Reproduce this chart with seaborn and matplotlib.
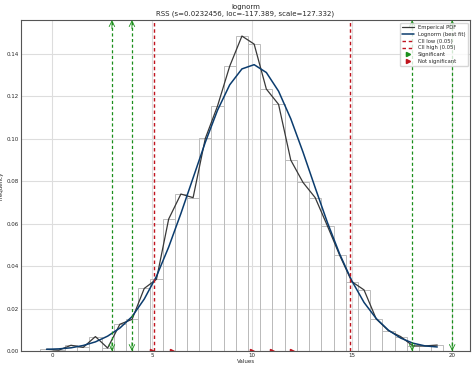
import numpy as np
import matplotlib
matplotlib.use("Agg")
import matplotlib.pyplot as plt
from matplotlib.lines import Line2D
import seaborn as sns

# histogram bins
bin_start = -0.57
bin_width = 0.61
emp_pdf = [0.0008, 0.0004, 0.0027, 0.0017, 0.0068, 0.0014, 0.0126, 0.0149,
           0.0295, 0.0338, 0.0622, 0.0740, 0.0723, 0.1002, 0.1155, 0.1343,
           0.1485, 0.1447, 0.1235, 0.1163, 0.0900, 0.0795, 0.0723, 0.0590,
           0.0452, 0.0327, 0.0288, 0.0151, 0.0096, 0.0068, 0.0024, 0.0024,
           0.0028]
fit_pdf = [0.0008, 0.0010, 0.0015, 0.0026, 0.0043, 0.0070, 0.0108, 0.0162,
           0.0245, 0.0352, 0.0490, 0.0648, 0.0816, 0.0984, 0.1135, 0.1255,
           0.1330, 0.1350, 0.1313, 0.1225, 0.1095, 0.0938, 0.0770, 0.0606,
           0.0458, 0.0331, 0.0229, 0.0153, 0.0098, 0.0061, 0.0037, 0.0024,
           0.0019]
cii_low = 5.12
cii_high = 14.87
significant = [3.0, 4.0, 18.0, 20.0]
not_significant = [5.0, 6.0, 10.0, 11.0, 12.0]
x_ticks = [0, 5, 10, 15, 20]
y_ticks = [0.00, 0.02, 0.04, 0.06, 0.08, 0.10, 0.12, 0.14]

title = "lognorm\nRSS (s=0.0232456, loc=-117.389, scale=127.332)"

centers = bin_start + bin_width * (np.arange(len(emp_pdf)) + 0.5)

sns.set_style("whitegrid", {"grid.color": "#dddddd", "axes.edgecolor": "#555555"})
plt.rcParams['font.family'] = ['DejaVu Sans']

fig = plt.figure(figsize=(4.74, 3.66), dpi=100)
ax = fig.add_axes([0.044, 0.041, 0.948, 0.904])

ax.bar(centers, emp_pdf, width=bin_width, fill=False, edgecolor="#bbbbbb", linewidth=0.7)
sns.lineplot(x=centers, y=emp_pdf, color="#383838", lw=0.9, ax=ax, legend=False)
sns.lineplot(x=centers, y=fit_pdf, color="#0b3c6e", lw=1.1, ax=ax, legend=False)

ymax = 0.156
dash = (0, (2.5, 2))
ax.axvline(cii_low, color="#c0141e", ls=dash, lw=1.0)
ax.axvline(cii_high, color="#c0141e", ls=dash, lw=1.0)

for xv in significant:
    ax.axvline(xv, color="#1a8f1a", ls=dash, lw=0.9)
    for y0, y1 in [(ymax - 0.004, ymax), (0.004, 0)]:
        ax.annotate("", xy=(xv, y1), xytext=(xv, y0),
                    arrowprops=dict(arrowstyle="->", color="#1a8f1a", lw=0.6,
                                    shrinkA=0, shrinkB=0, mutation_scale=10))

ax.plot(not_significant, np.zeros(len(not_significant)), ls="none", marker=">",
        color="#c0141e", markersize=3)

ax.set_xlim(-1.55, 20.9)
ax.set_ylim(0, ymax)
ax.set_xticks(x_ticks)
ax.set_yticks(y_ticks)
ax.set_yticklabels(["%.2f" % v for v in y_ticks])
ax.tick_params(labelsize=4, pad=1.5, length=0)
ax.set_xlabel("Values", fontsize=4, labelpad=1)
ax.set_ylabel("Frequency", fontsize=4, labelpad=2)
ax.set_title(title, fontsize=5, pad=3, linespacing=1.15)
ax.grid(True, color="#dddddd", lw=0.8)
for sp in ax.spines.values():
    sp.set_linewidth(0.8)

handles = [
    Line2D([], [], color="#383838", lw=0.9),
    Line2D([], [], color="#0b3c6e", lw=1.1),
    Line2D([], [], color="#c0141e", ls=dash, lw=1.0),
    Line2D([], [], color="#c0141e", ls=dash, lw=1.0),
    Line2D([], [], color="#1a8f1a", ls="none", marker=">", markersize=3),
    Line2D([], [], color="#c0141e", ls="none", marker=">", markersize=3),
]
labels = ["Emperical PDF", "Lognorm (best fit)", "CII low (0.05)",
          "CII high (0.05)", "Significant", "Not significant"]
ax.legend(handles, labels, loc="upper right", fontsize=3.8, frameon=True,
          handlelength=2.2, labelspacing=0.35, borderpad=0.4)

fig.savefig("out.png", dpi=100)
